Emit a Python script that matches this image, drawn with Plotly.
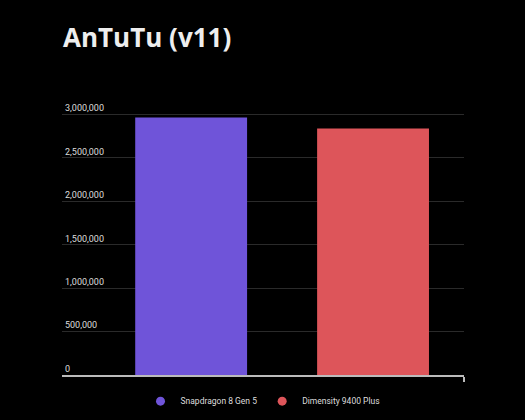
import plotly.graph_objects as go

# AnTuTu v11 scores
chips = ["Snapdragon 8 Gen 5", "Dimensity 9400 Plus"]
scores = [2965000, 2838000]
colors = ["#6f54d9", "#dd555a"]
y_ticks = [0, 500000, 1000000, 1500000, 2000000, 2500000, 3000000]

fig = go.Figure()
for name, val, col in zip(chips, scores, colors):
    fig.add_trace(go.Bar(x=[0], y=[val], name=name, showlegend=False,
                         marker=dict(color=col, line=dict(width=0))))
# round legend markers like the original
for name, col in zip(chips, colors):
    fig.add_trace(go.Scatter(x=[None], y=[None], name=name, mode="markers",
                             marker=dict(color=col, size=9, symbol="circle")))

fig.update_layout(
    width=525, height=420,
    paper_bgcolor="black", plot_bgcolor="black",
    margin=dict(l=62, r=61, t=100, b=45, autoexpand=False),
    barmode="group", bargap=0.0, bargroupgap=0.385,
    font=dict(family="Roboto", color="#dddddd", size=9),
    title=dict(text="<b>AnTuTu (v11)</b>", x=63 / 525, xanchor="left",
               xref="container", yref="container", y=1 - 38 / 420, yanchor="middle",
               font=dict(family="Open Sans", size=26, color="#eeeeee")),
    legend=dict(orientation="h", x=0.5, xanchor="center", y=-0.095, yanchor="middle",
                font=dict(size=8.5, color="#dddddd"), itemwidth=30),
)
fig.update_xaxes(range=[-0.605, 0.5], tickvals=[-0.5, 0.5], showticklabels=False,
                 ticks="outside", ticklen=5, tickcolor="#bbbbbb", tickwidth=1.5,
                 showline=True, linecolor="#bbbbbb", linewidth=1.5,
                 showgrid=False, zeroline=False)
fig.update_yaxes(range=[0, 3165000], tickvals=y_ticks, tickformat=",d",
                 ticklabelposition="inside top", showgrid=True, gridcolor="#2a2a2a",
                 gridwidth=1, zeroline=False, showline=False, ticks="",
                 tickfont=dict(size=9, color="#dddddd"))

fig.write_html("out.html", config={"displayModeBar": False},
               post_script="document.body.style.margin='0';")
